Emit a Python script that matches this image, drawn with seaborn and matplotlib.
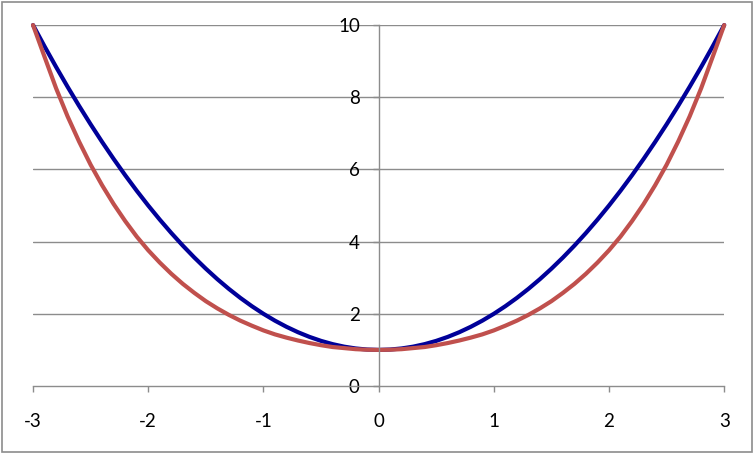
import numpy as np
import matplotlib
matplotlib.use("Agg")
import matplotlib.pyplot as plt
import seaborn as sns
from matplotlib.patches import Rectangle

# values
x_vals = [-3.0, -2.9, -2.8, -2.7, -2.6, -2.5, -2.4, -2.3, -2.2, -2.1,
          -2.0, -1.9, -1.8, -1.7, -1.6, -1.5, -1.4, -1.3, -1.2, -1.1,
          -1.0, -0.9, -0.8, -0.7, -0.6, -0.5, -0.4, -0.3, -0.2, -0.1,
          0.0, 0.1, 0.2, 0.3, 0.4, 0.5, 0.6, 0.7, 0.8, 0.9,
          1.0, 1.1, 1.2, 1.3, 1.4, 1.5, 1.6, 1.7, 1.8, 1.9,
          2.0, 2.1, 2.2, 2.3, 2.4, 2.5, 2.6, 2.7, 2.8, 2.9, 3.0]
blue_vals = [10.0, 9.41, 8.84, 8.29, 7.76, 7.25, 6.76, 6.29, 5.84, 5.41,
             5.0, 4.61, 4.24, 3.89, 3.56, 3.25, 2.96, 2.69, 2.44, 2.21,
             2.0, 1.81, 1.64, 1.49, 1.36, 1.25, 1.16, 1.09, 1.04, 1.01,
             1.0, 1.01, 1.04, 1.09, 1.16, 1.25, 1.36, 1.49, 1.64, 1.81,
             2.0, 2.21, 2.44, 2.69, 2.96, 3.25, 3.56, 3.89, 4.24, 4.61,
             5.0, 5.41, 5.84, 6.29, 6.76, 7.25, 7.76, 8.29, 8.84, 9.41, 10.0]
red_vals = [10.0, 9.12, 8.25, 7.47, 6.77, 6.13, 5.56, 5.04, 4.57, 4.14,
            3.76, 3.42, 3.11, 2.83, 2.58, 2.35, 2.15, 1.97, 1.81, 1.67,
            1.54, 1.43, 1.34, 1.26, 1.19, 1.13, 1.08, 1.05, 1.02, 1.005,
            1.0, 1.005, 1.02, 1.05, 1.08, 1.13, 1.19, 1.26, 1.34, 1.43,
            1.54, 1.67, 1.81, 1.97, 2.15, 2.35, 2.58, 2.83, 3.11, 3.42,
            3.76, 4.14, 4.57, 5.04, 5.56, 6.13, 6.77, 7.47, 8.25, 9.12, 10.0]
x_ticks = [-3, -2, -1, 0, 1, 2, 3]
y_ticks = [0, 2, 4, 6, 8, 10]

sns.set_style("white")
plt.rcParams['font.family'] = ['Lato', 'DejaVu Sans']
plt.rcParams['axes.unicode_minus'] = False

grey = '#8c8c8c'
fig = plt.figure(figsize=(7.54, 4.54), dpi=100)
ax = fig.add_axes([0.0438, 0.1498, 0.9167, 0.795])

sns.lineplot(x=x_vals, y=blue_vals, ax=ax, color='#000099', linewidth=3.0,
             clip_on=False, solid_joinstyle='round')
sns.lineplot(x=x_vals, y=red_vals, ax=ax, color='#c0504d', linewidth=3.0,
             clip_on=False, solid_joinstyle='round')

ax.set_xlim(-3, 3)
ax.set_ylim(0, 10)
ax.set_xticks(x_ticks)
ax.set_yticks(y_ticks)

for y in y_ticks[1:]:
    ax.axhline(y, color=grey, linewidth=1.0, zorder=0)

ax.spines['left'].set_position(('data', 0))
ax.spines['bottom'].set_position(('data', 0))
ax.spines['top'].set_visible(False)
ax.spines['right'].set_visible(False)
for s in ['left', 'bottom']:
    ax.spines[s].set_color(grey)
    ax.spines[s].set_linewidth(1.0)

ax.tick_params(axis='x', direction='out', length=4.5, width=1.0, color=grey,
               pad=15, labelsize=13.5, labelcolor='black', bottom=True)
ax.tick_params(axis='y', direction='out', length=4.5, width=1.0, color=grey,
               pad=9, labelsize=13.5, labelcolor='black', left=True)
ax.set_xlabel('')
ax.set_ylabel('')

fig.patches.append(Rectangle((0.003, 0.005), 0.994, 0.99, transform=fig.transFigure,
                             fill=False, edgecolor=grey, linewidth=1.2))

fig.savefig('out.png', dpi=100)
